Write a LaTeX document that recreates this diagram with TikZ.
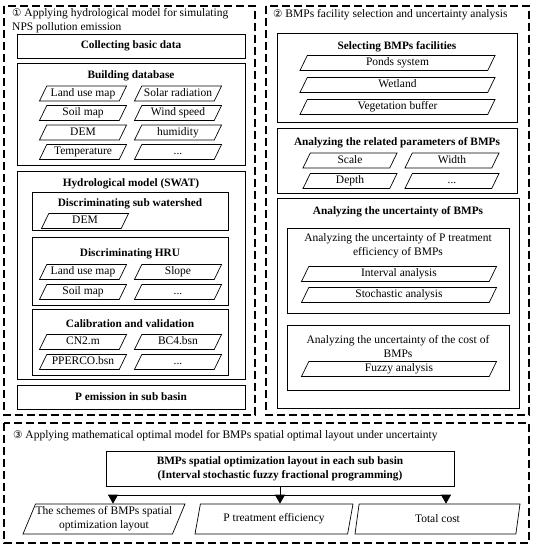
\documentclass[tikz,border=0pt]{standalone}
\usepackage{fontspec}
\setmainfont{Liberation Serif}
\newfontfamily\circfont{DejaVu Sans}
\usetikzlibrary{shapes.geometric,arrows.meta}
\begin{document}
\begin{tikzpicture}[x=1pt,y=-1pt,
    font=\fontsize{11.5}{14}\selectfont,
    group/.style={draw, line width=1.2pt, dash pattern=on 8pt off 4pt},
    box/.style={draw, line width=1pt, rectangle, inner sep=0pt},
    head/.style={font=\fontsize{11.3}{14}\selectfont\bfseries, align=center},
    para/.style={draw, line width=0.7pt, trapezium, trapezium left angle=54,
      trapezium right angle=126, trapezium stretches body,
      minimum height=15pt, inner sep=0pt, text height=7.5pt, text depth=2.5pt},
    bigpara/.style={para, trapezium left angle=63, trapezium right angle=117,
      minimum height=30pt, align=center, text height=, text depth=},
    arr/.style={line width=1pt, -{Triangle[width=10pt,length=9pt]}}]
  \useasboundingbox (0,0) rectangle (534,550);
  \draw[group] (4,6) rectangle (255,415);
  \draw[group] (266,6) rectangle (529,415);
  \draw[group] (4,423) rectangle (529,543);
  \node[anchor=north west, align=left, inner sep=0pt] (t1) at (12,8)
    {{\circfont\fontsize{10.5}{14}\selectfont ①} Applying hydrological model for simulating\\NPS pollution emission};
  \node[anchor=west, inner sep=0pt] (t2) at (273,15)
    {{\circfont\fontsize{10.5}{14}\selectfont ②} BMPs facility selection and uncertainty analysis};
  \node[anchor=west, inner sep=0pt] (t3) at (13,436)
    {{\circfont\fontsize{10.5}{14}\selectfont ③} Applying mathematical optimal model for BMPs spatial optimal layout under uncertainty};

  \node[box, head, minimum width=228pt, minimum height=24pt] (collect) at (131,46) {Collecting basic data};
  \node[box, minimum width=228pt, minimum height=102pt] (db) at (131,114) {};
  \node[head] (dbt) at (131,76) {Building database};
  \node[para, minimum width=87pt] (land) at (83,93.5) {Land use map};
  \node[para, minimum width=87pt] (solar) at (178,93.5) {Solar radiation};
  \node[para, minimum width=87pt] (soil) at (83,113) {Soil map};
  \node[para, minimum width=87pt] (wind) at (178,113) {Wind speed};
  \node[para, minimum width=87pt] (dem) at (83,132.5) {DEM};
  \node[para, minimum width=87pt] (humid) at (178,132.5) {humidity};
  \node[para, minimum width=87pt] (temp) at (83,152) {Temperature};
  \node[para, minimum width=87pt] (dbmore) at (178,152) {...};

  \node[box, minimum width=228pt, minimum height=208pt] (swat) at (131,275) {};
  \node[head] (swatt) at (131,184) {Hydrological model (SWAT)};
  \node[box, minimum width=196pt, minimum height=38pt] (sub) at (130,211) {};
  \node[head] (subt) at (130,204) {Discriminating sub watershed};
  \node[para, minimum width=87pt] (subdem) at (85,221) {DEM};
  \node[box, minimum width=196pt, minimum height=68pt] (hru) at (130,271) {};
  \node[head] (hrut) at (130,254) {Discriminating HRU};
  \node[para, minimum width=87pt] (hland) at (83,272) {Land use map};
  \node[para, minimum width=87pt] (slope) at (178,272) {Slope};
  \node[para, minimum width=87pt] (hsoil) at (83,292) {Soil map};
  \node[para, minimum width=87pt] (hrumore) at (178,292) {...};
  \node[box, minimum width=196pt, minimum height=66pt] (calib) at (130,342) {};
  \node[head] (calibt) at (130,324) {Calibration and validation};
  \node[para, minimum width=87pt] (cn) at (83,342) {CN2.m};
  \node[para, minimum width=87pt] (bc) at (178,342) {BC4.bsn};
  \node[para, minimum width=87pt] (pperco) at (83,362) {PPERCO.bsn};
  \node[para, minimum width=87pt] (calmore) at (178,362) {...};
  \node[box, head, minimum width=228pt, minimum height=24pt] (pemit) at (131,397) {P emission in sub basin};

  \node[box, minimum width=240pt, minimum height=89pt] (select) at (397,77.5) {};
  \node[head] (selectt) at (397,47) {Selecting BMPs facilities};
  \node[para, minimum width=195pt] (ponds) at (397.5,63) {Ponds system};
  \node[para, minimum width=195pt] (wet) at (397.5,85) {Wetland};
  \node[para, minimum width=195pt] (veg) at (397.5,107) {Vegetation buffer};
  \node[box, minimum width=240pt, minimum height=65pt] (param) at (397,160.5) {};
  \node[head] (paramt) at (397,143) {Analyzing the related parameters of BMPs};
  \node[para, minimum width=94pt] (scale) at (350,160.5) {Scale};
  \node[para, minimum width=94pt] (width) at (452,160.5) {Width};
  \node[para, minimum width=94pt] (depth) at (350,181) {Depth};
  \node[para, minimum width=94pt] (parmore) at (452,181) {...};
  \node[box, minimum width=242pt, minimum height=210pt] (unc) at (398,303) {};
  \node[head] (unct) at (398,212) {Analyzing the uncertainty of BMPs};
  \node[box, minimum width=222pt, minimum height=85pt] (eff) at (398,270.5) {};
  \node[align=center] (efft) at (398,246) {Analyzing the uncertainty of P treatment\\efficiency of BMPs};
  \node[para, minimum width=195pt] (interval) at (399,274) {Interval analysis};
  \node[para, minimum width=195pt] (stoch) at (399,295) {Stochastic analysis};
  \node[box, minimum width=222pt, minimum height=65pt] (cost) at (398,357.5) {};
  \node[align=center] (costt) at (398,347) {Analyzing the uncertainty of the cost of\\BMPs};
  \node[para, minimum width=195pt] (fuzzy) at (399,369) {Fuzzy analysis};

  \node[box, head, minimum width=348pt, minimum height=35pt] (opt) at (280,468.5)
    {BMPs spatial optimization layout in each sub basin\\(Interval stochastic fuzzy fractional programming)};
  \node[bigpara, minimum width=162pt] (scheme) at (104,519) {The schemes of BMPs spatial\\optimization layout};
  \node[bigpara, minimum width=158pt] (effic) at (274,519) {P treatment efficiency};
  \node[bigpara, minimum width=165pt] (total) at (437.5,519) {Total cost};
  \coordinate (jl) at (113,495);
  \coordinate (jm) at (280,495);
  \coordinate (jr) at (446,495);
  \draw[line width=1pt] (opt.south) -- (jm);
  \draw[line width=1pt] (jl) -- (jr);
  \draw[arr] (jl) -- (jl |- scheme.north);
  \draw[arr] (jm) -- (jm |- effic.north);
  \draw[arr] (jr) -- (jr |- total.north);
\end{tikzpicture}
\end{document}
